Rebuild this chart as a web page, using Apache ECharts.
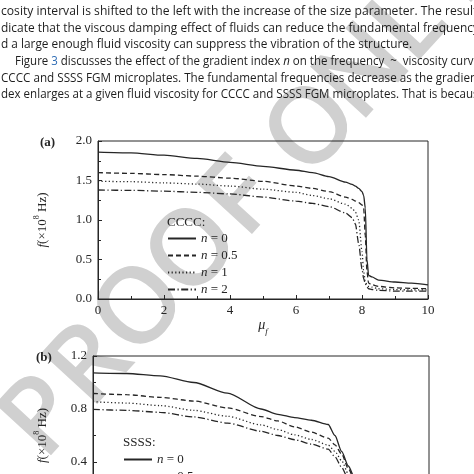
<!DOCTYPE html>
<html>
<head>
<meta charset="utf-8">
<script src="https://cdn.jsdelivr.net/npm/echarts@6/dist/echarts.min.js"></script>
<style>
  html, body { margin: 0; padding: 0; background: #fff; overflow: hidden; }
  /* the page crop cuts panel (b) off, so the chart runs past the bottom of the window */
  #chart-container { width: 474px; height: 545px; }
</style>
</head>
<body>
<div id="chart-container"></div>
<script>
// values, f in 10^8 Hz
var muA = [0, 1, 2, 3, 4, 5, 6, 6.5, 7, 7.5, 7.7, 7.8, 7.9, 8.0, 8.05, 8.1, 8.15, 8.2, 8.3, 8.5, 9, 9.5, 10];
var cccc_n0  = [1.86, 1.85, 1.82, 1.78, 1.73, 1.68, 1.63, 1.60, 1.55, 1.48, 1.45, 1.43, 1.40, 1.36, 1.31, 1.15, 0.50, 0.30, 0.28, 0.24, 0.215, 0.20, 0.18];
var cccc_n05 = [1.60, 1.59, 1.575, 1.555, 1.53, 1.49, 1.43, 1.40, 1.36, 1.29, 1.26, 1.24, 1.22, 1.19, 1.15, 0.80, 0.35, 0.20, 0.18, 0.16, 0.14, 0.135, 0.13];
var cccc_n1  = [1.49, 1.485, 1.47, 1.455, 1.43, 1.39, 1.35, 1.31, 1.27, 1.20, 1.15, 1.10, 1.00, 0.60, 0.35, 0.22, 0.18, 0.16, 0.15, 0.13, 0.12, 0.115, 0.115];
var cccc_n2  = [1.38, 1.375, 1.365, 1.35, 1.33, 1.29, 1.24, 1.21, 1.17, 1.09, 1.03, 0.95, 0.70, 0.38, 0.26, 0.19, 0.15, 0.13, 0.12, 0.11, 0.10, 0.10, 0.10];

var muB = [0, 1, 2, 3, 4, 5, 5.5, 6, 6.5, 7, 7.2, 7.4, 7.6, 7.8, 8, 8.3, 8.6, 9, 9.5, 10];
var ssss_n0  = [1.073, 1.068, 1.05, 1.00, 0.92, 0.80, 0.76, 0.735, 0.715, 0.683, 0.60, 0.48, 0.37, 0.27, 0.19, 0.14, 0.12, 0.11, 0.10, 0.10];
var ssss_n05 = [0.917, 0.908, 0.888, 0.86, 0.808, 0.743, 0.71, 0.665, 0.625, 0.58, 0.53, 0.46, 0.35, 0.25, 0.17, 0.12, 0.10, 0.09, 0.085, 0.08];
var ssss_n1  = [0.855, 0.845, 0.826, 0.79, 0.745, 0.68, 0.645, 0.605, 0.57, 0.528, 0.48, 0.41, 0.31, 0.22, 0.15, 0.11, 0.09, 0.08, 0.075, 0.07];
var ssss_n2  = [0.797, 0.79, 0.775, 0.74, 0.694, 0.632, 0.60, 0.568, 0.535, 0.497, 0.44, 0.36, 0.27, 0.19, 0.13, 0.10, 0.08, 0.07, 0.065, 0.06];

var nValues = ['0', '0.5', '1', '2'];

var dom = document.getElementById('chart-container');
var myChart = echarts.init(dom, null, { renderer: 'canvas' });

var serif = '"Liberation Serif", "DejaVu Serif", serif';
var sans = '"Open Sans", "Noto Sans", sans-serif';
var ink = '#262626';
var dashes = ['solid', [5, 3], [1.2, 2.4], [7, 2.5, 1.2, 2.5]];

function pairs(xs, ys) {
  return xs.map(function (x, i) { return [x, ys[i]]; });
}

function makeSeries(prefix, grid, xs, sets) {
  return sets.map(function (ys, k) {
    return {
      name: prefix + ' n = ' + nValues[k],
      type: 'line',
      xAxisIndex: grid,
      yAxisIndex: grid,
      data: pairs(xs, ys),
      symbol: 'none',
      smooth: 0.25,
      smoothMonotone: 'x',
      lineStyle: { color: ink, width: 1.3, type: dashes[k] },
      itemStyle: { color: ink },
      silent: true
    };
  });
}

var seriesA = makeSeries('CCCC', 0, muA, [cccc_n0, cccc_n05, cccc_n1, cccc_n2]);
var seriesB = makeSeries('SSSS', 1, muB, [ssss_n0, ssss_n05, ssss_n1, ssss_n2]);

function axisBase() {
  return {
    axisLine: { show: true, lineStyle: { color: ink, width: 1 } },
    axisTick: { show: true, inside: true, length: 4, lineStyle: { color: ink } },
    minorTick: { show: true, splitNumber: 2, length: 3, lineStyle: { color: ink } },
    splitLine: { show: false },
    axisLabel: { color: ink, fontFamily: serif, fontSize: 13 }
  };
}

function xAxis(grid, showName) {
  var a = axisBase();
  a.type = 'value';
  a.gridIndex = grid;
  a.min = 0; a.max = 10; a.interval = 2;
  a.axisLabel.margin = 5;
  if (showName) {
    a.name = '{m|μ}{s|f}';
    a.nameLocation = 'middle';
    a.nameGap = 15;
    a.nameTextStyle = {
      rich: {
        m: { fontFamily: serif, fontStyle: 'italic', fontSize: 14, color: ink, lineHeight: 18, verticalAlign: 'top' },
        s: { fontFamily: serif, fontStyle: 'italic', fontSize: 9, color: ink, lineHeight: 18, verticalAlign: 'bottom' }
      }
    };
  }
  return a;
}

function yAxis(grid, max, step, gap) {
  var a = axisBase();
  a.type = 'value';
  a.gridIndex = grid;
  a.min = 0; a.max = max; a.interval = step;
  a.axisLabel.margin = 6;
  a.axisLabel.formatter = function (v) { return v.toFixed(1); };
  a.name = '{i|f}{t|(×10}{s|8}{t| Hz)}';
  a.nameLocation = 'middle';
  a.nameRotate = 90;
  a.nameGap = gap;
  a.nameTextStyle = {
    rich: {
      i: { fontFamily: serif, fontStyle: 'italic', fontSize: 13, color: ink, lineHeight: 16, verticalAlign: 'bottom' },
      t: { fontFamily: serif, fontSize: 13, color: ink, lineHeight: 16, verticalAlign: 'bottom' },
      s: { fontFamily: serif, fontSize: 8, color: ink, lineHeight: 16, verticalAlign: 'top' }
    }
  };
  return a;
}

function legend(names, left, top) {
  return {
    data: names,
    orient: 'vertical',
    left: left,
    top: top,
    itemWidth: 28,
    itemHeight: 10,
    itemGap: 4,
    padding: 0,
    selectedMode: false,
    itemStyle: { opacity: 0 },
    formatter: function (name) {
      return '{i|n}{r| = ' + name.split('= ')[1] + '}';
    },
    textStyle: {
      color: ink,
      lineHeight: 10,
      rich: {
        i: { fontFamily: serif, fontStyle: 'italic', fontSize: 13, color: ink, lineHeight: 10 },
        r: { fontFamily: serif, fontSize: 13, color: ink, lineHeight: 10 }
      }
    }
  };
}

// page text around the figure (a crop of a justified journal page)
var ctx = document.createElement('canvas').getContext('2d');
var textFont = '13.5px ' + sans;
function squeeze(visible, target) {
  ctx.font = textFont;
  return target / ctx.measureText(visible).width;
}

var para = [
  { y: 11, x: 1, vis: 'cosity interval is shifted to the left with the increase of the size parameter. The resul', rest: 'ts', w: 472 },
  { y: 27.7, x: 1, vis: 'dicate that the viscous damping effect of fluids can reduce the fundamental frequenc', rest: 'y', w: 472 },
  { y: 44.3, x: 1, vis: 'd a large enough fluid viscosity can suppress the vibration of the structure.', rest: '', w: 411 },
  { y: 61, x: 15, vis: 'Figure 3 discusses the effect of the gradient index n on the frequency  ~  viscosity curv', rest: 'es', w: 459, rich: true },
  { y: 77.7, x: 1, vis: 'CCCC and SSSS FGM microplates. The fundamental frequencies decrease as the gradie', rest: 'nt', w: 469 },
  { y: 94.3, x: 1, vis: 'dex enlarges at a given fluid viscosity for CCCC and SSSS FGM microplates. That is becau', rest: 'se', w: 472 }
];

var graphics = [];

// "PROOF ONLY" watermark, drawn first so everything sits on top of it
var tilt = 47.5 * Math.PI / 180;
var mark = [
  ['P', 44, 418], ['R', 91, 366], ['O', 142, 310], ['O', 195, 252], ['F', 242, 200],
  ['O', 314, 130], ['N', 365, 74], ['L', 410, 25], ['Y', 453, -23]
];
mark.forEach(function (m) {
  graphics.push({
    type: 'text', x: m[1], y: m[2], rotation: tilt, z: -10, silent: true,
    style: {
      text: m[0], fill: '#d0d0d0', fontFamily: sans,
      fontWeight: 600, fontSize: 106, align: 'center', verticalAlign: 'middle'
    }
  });
});

para.forEach(function (p) {
  var k = squeeze(p.vis, p.w);
  var style = { fill: '#1e1e1e', font: textFont, align: 'left', verticalAlign: 'middle' };
  if (p.rich) {
    style.text = '{t|Figure }{b|3}{t| discusses the effect of the gradient index }{i|n}{t| on the frequency  ~  viscosity curves}';
    style.rich = {
      t: { fontFamily: sans, fontSize: 13.5, fill: '#1e1e1e' },
      b: { fontFamily: sans, fontSize: 13.5, fill: '#2f6db5' },
      i: { fontFamily: sans, fontSize: 13.5, fontStyle: 'italic', fill: '#1e1e1e' }
    };
  } else {
    style.text = p.vis + p.rest;
  }
  graphics.push({ type: 'text', x: p.x, y: p.y, scaleX: k, style: style, silent: true, z: 10 });
});

// panel tags and legend titles
[['(a)', 40, 143, 'bold'], ['(b)', 36, 358, 'bold'], ['CCCC:', 167, 223, 'normal'], ['SSSS:', 123, 443, 'normal']].forEach(function (t) {
  graphics.push({
    type: 'text', x: t[1], y: t[2], silent: true, z: 10,
    style: { text: t[0], fill: ink, fontFamily: serif, fontSize: 13, fontWeight: t[3], align: 'left', verticalAlign: 'middle' }
  });
});

var option = {
  backgroundColor: '#fff',
  animation: false,
  grid: [
    { left: 98, top: 141, width: 330, height: 158, show: true, borderColor: ink, borderWidth: 1, outerBoundsMode: 'none' },
    { left: 93, top: 356, width: 336, height: 159, show: true, borderColor: ink, borderWidth: 1, outerBoundsMode: 'none' }
  ],
  xAxis: [xAxis(0, true), xAxis(1, false)],
  yAxis: [yAxis(0, 2, 0.5, 49), yAxis(1, 1.2, 0.4, 44)],
  legend: [
    legend(seriesA.map(function (s) { return s.name; }), 167, 232),
    legend(seriesB.map(function (s) { return s.name; }), 123, 453)
  ],
  graphic: graphics,
  series: seriesA.concat(seriesB)
};

myChart.setOption(option);
window.addEventListener('resize', myChart.resize);
</script>
</body>
</html>
